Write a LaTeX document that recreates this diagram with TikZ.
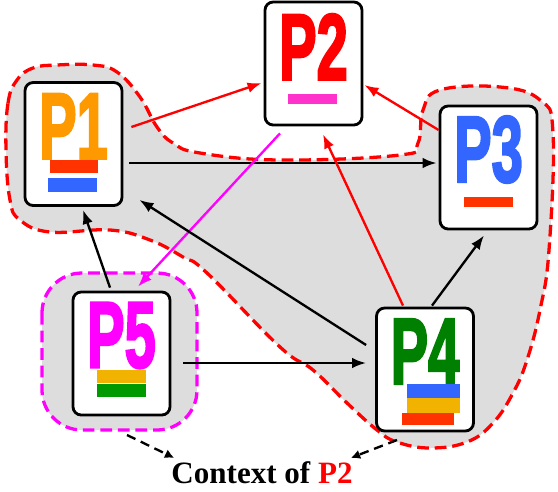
\documentclass[tikz,border=0pt]{standalone}
\usepackage{fontspec}
\usetikzlibrary{arrows.meta}
\newfontfamily\plabelfont{Liberation Sans}[BoldFeatures={FakeBold=3}]
\newfontfamily\ctxfont{Liberation Serif}
\definecolor{regiongray}{RGB}{221,221,221}
\definecolor{pone}{RGB}{255,153,0}
\definecolor{ptwo}{RGB}{255,0,0}
\definecolor{pthree}{RGB}{51,102,255}
\definecolor{pfour}{RGB}{0,128,0}
\definecolor{pfive}{RGB}{255,0,255}
\definecolor{barred}{RGB}{255,51,0}
\definecolor{barblue}{RGB}{51,102,255}
\definecolor{barpink}{RGB}{255,51,204}
\definecolor{baryellow}{RGB}{242,178,0}
\definecolor{bargreen}{RGB}{0,153,0}
\newcommand{\plabel}[1]{\scalebox{0.6}[1]{#1}}
\tikzset{
  pbox/.style={draw, line width=2.4pt, rounded corners=7pt, fill=white,
    minimum width=2.91cm, minimum height=3.69cm, inner sep=0},
  ptext/.style={font=\plabelfont\bfseries\fontsize{80}{80}\selectfont, inner sep=0},
  edge/.style={line width=2pt, -{Latex[length=12pt,width=9pt]}},
  ctxarrow/.style={line width=2pt, dash pattern=on 8pt off 5pt, -{Latex[length=8pt,width=8pt]}},
  ctxborder/.style={line width=2.8pt, dash pattern=on 10pt off 5pt},
}
\begin{document}
\begin{tikzpicture}[x=0.03cm, y=-0.03cm]
	\useasboundingbox (0,0) rectangle (558,491);
	% Context regions
	\draw [ctxborder, red, fill=regiongray] plot [smooth cycle, tension=0.7] coordinates {
		(6,150) (8,103) (17,80) (33,68) (57,65) (93,65) (117,72) (140,97) (157,127)
		(173,143) (200,153) (280,160) (400,155) (418,143) (423,110) (440,90) (500,87)
		(540,100) (553,133) (549,250) (540,310) (527,360) (513,393) (493,423) (467,442)
		(430,448) (397,442) (377,430) (347,403) (313,370) (280,347) (207,273) (183,257)
		(150,240) (110,230) (50,232) (20,220) (10,200)};
	\draw [ctxborder, pfive, fill=regiongray, rounded corners=1.2cm] (42,273) rectangle (197,430);
	% Boxes
	\node [pbox] (p1) at (73.5,144) {};
	\node [pbox] (p2) at (313.5,63.5) {};
	\node [pbox] (p3) at (488.5,167.5) {};
	\node [pbox] (p4) at (425,369.5) {};
	\node [pbox] (p5) at (121.5,353.5) {};
	% Labels
	\node [ptext, text=pone] (t1) at ([yshift=0.53cm]p1.center) {\plabel{P1}};
	\node [ptext, text=ptwo] (t2) at ([yshift=0.5cm]p2.center) {\plabel{P2}};
	\node [ptext, text=pthree] (t3) at ([yshift=0.54cm]p3.center) {\plabel{P3}};
	\node [ptext, text=pfour] (t4) at ([yshift=0.54cm]p4.center) {\plabel{P4}};
	\node [ptext, text=pfive] (t5) at ([yshift=0.54cm]p5.center) {\plabel{P5}};
	% Bars
	\fill [barred] (50,160) rectangle (98,173);
	\fill [barblue] (48,178) rectangle (97,192);
	\fill [barpink] (288,94) rectangle (337,104);
	\fill [barred] (464,197) rectangle (513,207);
	\fill [baryellow] (97,370) rectangle (146,383);
	\fill [bargreen] (97,384) rectangle (146,397);
	\fill [barblue] (407,384) rectangle (460,398);
	\fill [baryellow] (407,398) rectangle (460,413);
	\fill [barred] (402,413) rectangle (454,425);
	% Dependencies
	\draw [edge, red] ([shift={(8,-17)}]p1.east) -- ([shift={(-2,19.5)}]p2.west);
	\draw [edge] ([shift={(6,19)}]p1.east) -- ([shift={(-2,-4.5)}]p3.west);
	\draw [edge, red] ([shift={(0,-37.5)}]p3.west) -- ([shift={(1,21.5)}]p2.east);
	\draw [edge, pfive] ([shift={(-33.5,7)}]p2.south) -- ([shift={(16.5,-4)}]p5.north);
	\draw [edge, red] ([shift={(-22,-1)}]p4.north) -- ([shift={(9.5,8)}]p2.south);
	\draw [edge] ([shift={(7,-1)}]p4.north) -- ([shift={(-4.5,5)}]p3.south);
	\draw [edge] ([shift={(-9,-24.5)}]p4.west) -- ([shift={(16,-7)}]p1.south east);
	\draw [edge] ([shift={(-11.5,-3)}]p5.north) -- ([shift={(9.5,3)}]p1.south);
	\draw [edge] ([shift={(12,9.5)}]p5.east) -- ([shift={(-9,-6.5)}]p4.west);
	% Context
	\node [anchor=base, inner sep=0, font=\ctxfont\bfseries\fontsize{26.5}{26.5}\selectfont] (ctx) at (262,483) {Context of \textcolor{red}{P2}};
	\coordinate (c5) at (127,435);
	\coordinate (c4) at (397,440);
	\draw [ctxarrow] (c5) -- ([shift={(3,-3)}]ctx.north west);
	\draw [ctxarrow] (c4) -- ([shift={(-2,-3)}]ctx.north east);
\end{tikzpicture}
\end{document}
